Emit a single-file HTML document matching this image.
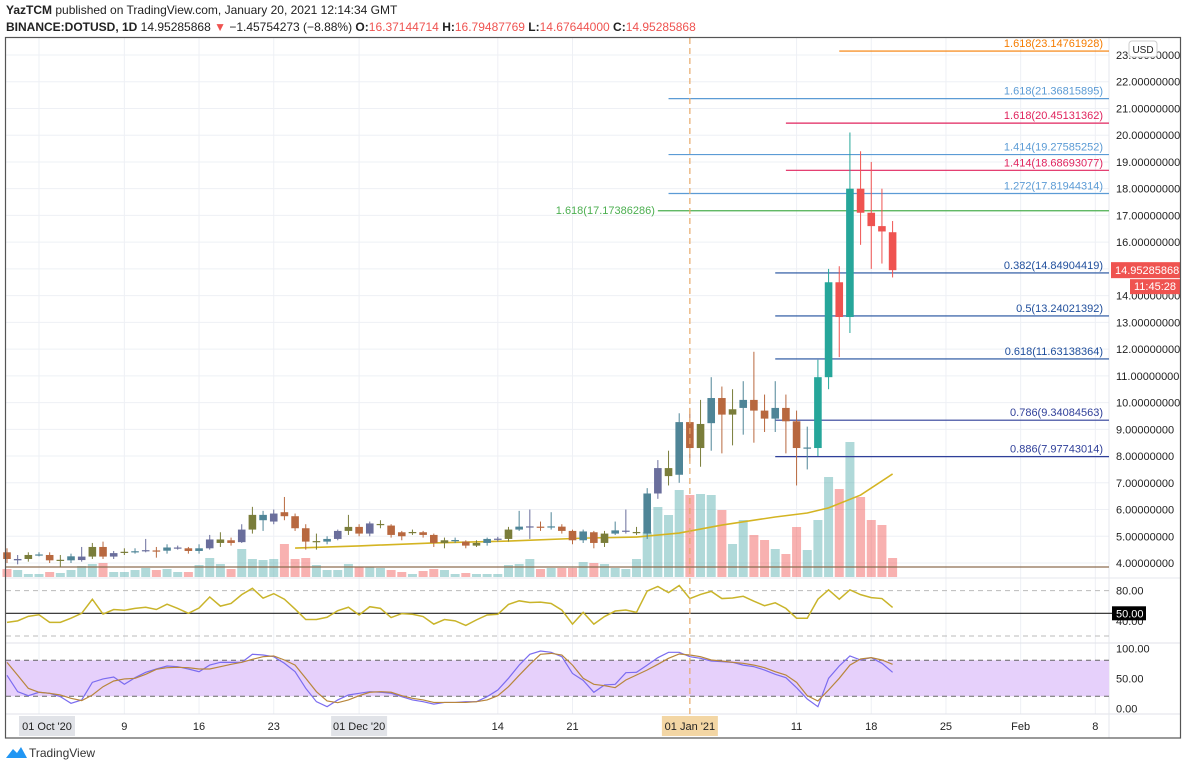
<!DOCTYPE html>
<html><head><meta charset="utf-8">
<style>
html,body{margin:0;padding:0;background:#fff;width:1185px;height:768px;overflow:hidden;font-family:"Liberation Sans",sans-serif;}
svg text{font-family:"Liberation Sans",sans-serif;}
</style></head>
<body>
<svg id="chart" width="1185" height="768" xmlns="http://www.w3.org/2000/svg">
<text x="6" y="14" font-size="12" fill="#222"><tspan font-weight="bold">YazTCM</tspan> published on TradingView.com, January 20, 2021 12:14:34 GMT</text>
<text x="6" y="31" font-size="12" fill="#222"><tspan font-weight="bold">BINANCE:DOTUSD, 1D</tspan> 14.95285868 <tspan fill="#ef5350">▼</tspan> −1.45754273 (−8.88%) <tspan font-weight="bold">O:</tspan><tspan fill="#ef5350">16.37144714</tspan> <tspan font-weight="bold">H:</tspan><tspan fill="#ef5350">16.79487769</tspan> <tspan font-weight="bold">L:</tspan><tspan fill="#ef5350">14.67644000</tspan> <tspan font-weight="bold">C:</tspan><tspan fill="#ef5350">14.95285868</tspan></text>
<g id="grid"></g>
<g id="vol"></g>
<g id="fib"></g>
<g id="candles"></g>
<g id="ind"></g>
<g id="axes"></g>
<rect x="5.5" y="37.5" width="1175" height="700.5" fill="none" stroke="#555" stroke-width="1.2"/>
<g>
<path d="M6 758 L13 749 L17 753 L21 747 L27 758 Z" fill="#2196f3"/>
<text x="29" y="757" font-size="12" fill="#333">TradingView</text>
</g>
</svg>
<script>
const days = [];
for (let d = -3; d <= 80; d++) days.push(d);
const opens  = [4.40,4.10,4.15,4.30,4.30,4.10,4.10,4.11,4.24,4.60,4.24,4.40,4.43,4.47,4.47,4.46,4.57,4.55,4.45,4.55,4.75,4.85,4.78,5.25,5.60,5.55,5.90,5.75,5.30,4.80,4.80,4.90,5.20,5.35,5.10,5.45,5.40,5.15,5.15,5.15,5.05,4.75,4.85,4.80,4.65,4.75,4.90,4.90,5.25,5.36,5.36,5.36,5.36,5.20,4.85,5.15,4.75,5.10,5.20,5.15,5.10,6.60,7.25,7.30,9.27,8.30,9.23,10.17,9.55,9.80,10.10,9.70,9.40,9.80,9.30,8.30,8.30,10.95,14.50,13.20,18.00,17.10,16.60,16.37144714];
const closes = [4.15,4.15,4.30,4.32,4.10,4.12,4.25,4.24,4.60,4.24,4.37,4.42,4.44,4.48,4.46,4.58,4.58,4.45,4.55,4.88,4.88,4.75,5.25,5.80,5.80,5.85,5.75,5.30,4.80,4.82,4.90,5.20,5.35,5.10,5.48,5.46,5.05,5.00,5.16,5.05,4.75,4.85,4.86,4.65,4.75,4.90,4.91,5.25,5.36,5.37,5.35,5.37,5.20,4.85,5.18,4.75,5.10,5.22,5.21,5.16,6.60,7.55,7.55,9.27,8.30,9.20,10.17,9.55,9.75,10.10,9.70,9.40,9.80,9.30,8.30,8.32,10.95,14.50,13.20,18.00,17.10,16.60,16.40,14.95285868];
const highs  = [4.55,4.30,4.40,4.40,4.40,4.30,4.35,4.60,4.75,4.80,4.45,4.55,4.55,4.90,4.60,4.70,4.65,4.60,4.70,5.05,5.15,4.95,5.45,6.10,5.95,6.00,6.47,5.85,5.45,5.10,5.00,5.25,5.80,5.45,5.55,5.60,5.45,5.20,5.25,5.20,5.10,4.95,4.95,4.85,4.85,4.95,4.98,5.35,5.95,6.00,5.55,5.90,5.45,5.25,5.25,5.20,5.20,5.55,6.00,5.35,6.80,7.85,8.20,9.60,9.80,10.10,10.95,10.60,10.50,10.80,11.90,10.30,10.80,10.30,9.70,9.10,11.60,15.00,15.10,20.10,19.40,19.00,18.00,16.79];
const lows   = [4.00,3.95,4.05,4.25,4.00,3.85,4.00,4.05,4.15,4.15,4.15,4.30,4.35,4.40,4.20,4.35,4.50,4.35,4.35,4.50,4.60,4.65,4.75,5.10,5.20,5.45,5.60,5.20,4.50,4.50,4.70,4.85,5.05,5.00,5.00,5.30,4.95,4.85,5.05,4.95,4.60,4.55,4.75,4.55,4.60,4.65,4.80,4.80,5.20,4.90,5.20,5.25,5.10,4.70,4.75,4.55,4.60,5.05,5.10,5.05,4.90,6.40,6.90,7.00,7.80,7.60,8.20,8.10,8.40,8.80,8.50,8.90,8.90,8.10,6.90,7.50,8.00,10.50,11.70,12.60,15.90,15.00,15.20,14.68];
const volumes = [8,7,3,3,5,4,7,11,13,14,5,5,7,9,7,8,5,5,12,19,13,8,28,18,17,18,33,18,19,12,7,7,13,10,10,9,7,5,3,6,8,7,3,4,3,3,3,12,13,18,8,9,9,9,15,14,13,9,8,18,45,70,62,87,82,83,82,67,33,57,42,37,28,23,50,27,57,100,88,135,80,57,52,19];
const maDays = [24,30,37,44,51,56,60,64,69,72,74,77,80];
const maVals = [4.56,4.64,4.75,4.82,4.93,4.97,5.12,5.42,5.72,5.87,6.06,6.54,7.33];
const rsiVals = [38,40,46,48,38,38,43.5,50,68.6,49,55,54,56.5,58,55,62,56.5,50,57,71.6,59.5,63,74.7,83,70,76,68.6,55.6,41.8,41.8,44.8,53.5,58,47.8,58.7,56.5,44.4,49.6,48.7,45.7,35.7,41.8,40,34,41.3,47.8,48.7,61.7,66.5,64.3,64.7,63,54.3,35.7,51.3,35.7,45.7,53,54.3,51.3,79.4,85.5,77.3,86.8,69.5,75,79,69.5,70.3,72.5,66,60,63.9,56.5,43.5,43.5,68.6,81,68.6,81,74.7,70.8,69.5,57.8];
const stochK = [55,27.7,21,26.7,25,19.4,8.3,13.9,43.3,48.9,52.2,40,51,60,65.5,70.5,69.4,65.5,61,72,76.6,76.6,76.6,90,88.8,86,75,61,33.3,11,2.7,13.9,22.2,25,27.7,26.7,25,19.4,13.9,11,7,9.8,9.8,11,11,19.4,30.5,50,72,90,95.5,93.3,86,58,46.6,26.7,38.9,40,59.4,60,72,84.4,93.3,93.3,86,83.3,78.8,77.7,76.6,72,69.4,63.8,56.6,51,34.4,15.5,2.7,50,70.5,87.2,80.5,84.4,75,60];
const stochD = [76.6,55,33.3,26.7,25,22.2,16.6,12.8,22.2,36,45.5,48.9,50,56.6,65,67.7,68.3,67.7,65.5,65.5,69.4,73.3,76.6,81.6,86,87.2,80.5,72,50,27.7,12.2,9.4,13.9,21,26.7,27.7,26.7,21,16.6,13.9,9.8,9.8,9.8,9.8,11,13.9,21,36,55,73.3,90,91.6,88.8,72,50,40,37.7,34.4,47.2,55.5,63.8,73.3,83.3,90.5,88.8,86,80.5,78.8,76.6,75,72,67.7,61,55.5,43.3,21,12.2,30.5,50,72,82.2,84.4,80.5,73.3];
const priceTicks = [4,5,6,7,8,9,10,11,12,13,14,15,16,17,18,19,20,21,22,23];
const dateTickDays = [0,8,15,22,30,43,50,61,71,78,85,92,99];
const dateTickLabels = ["01 Oct '20","9","16","23","01 Dec '20","14","21","01 Jan '21","11","18","25","Feb","8"];
const fibRatios = ["1.618","1.618","1.618","1.414","1.414","1.272","1.618","0.382","0.5","0.618","0.786","0.886"];
const fibPrices = [23.14761928,21.36815895,20.45131362,19.27585252,18.68693077,17.81944314,17.17386286,14.84904419,13.24021392,11.63138364,9.34084563,7.97743014];
const fibStartDays = [75,59,70,59,70,59,58,69,69,69,69,69];
const fibColors = ["#f57c00","#5b9bd5","#e0245e","#5b9bd5","#e0245e","#5b9bd5","#4caf50","#1f4e9c","#1f4e9c","#1f4e9c","#2f3f99","#2f3f99"];

const NS = "http://www.w3.org/2000/svg";
const PR = 1109;
function x(d){ return 39 + d * 10.67; }
function y(p){ return 563 - (p - 4) * 26.737; }
function vy(v){ return 577 - v * 1.0; }
function ry(v){ return 613.3 - (v - 50) * 0.756; }
function sy(v){ return 708.3 - v * 0.6; }
function mk(tag, attrs, parent){ const e = document.createElementNS(NS, tag); for (const k in attrs) e.setAttribute(k, attrs[k]); parent.appendChild(e); return e; }
const grid = document.getElementById('grid'), volG = document.getElementById('vol'), fibG = document.getElementById('fib'), cG = document.getElementById('candles'), indG = document.getElementById('ind'), axG = document.getElementById('axes');

priceTicks.forEach(p => {
  const l = mk('line', {x1:6, x2:PR, y1:y(p), y2:y(p), stroke:'#eef0f5', 'stroke-width':1}, grid);
  
  
  const t = mk('text', {x:1116, y:y(p)+4, 'font-size':11, fill:'#222'}, axG);
  t.textContent = p.toFixed(8);
  
  
});
dateTickDays.forEach((d, i) => {
  if (i !== 7) {
    const l = mk('line', {x1:x(d), x2:x(d), y1:38, y2:714, stroke:'#eef0f5', 'stroke-width':1}, grid);
    
    
  }
  const lab = dateTickLabels[i];
  const w = lab.length > 3 ? 56 : 20;
  if (lab.length > 3) {
    const r = mk('rect', {x:x(d)-w/2+ (i===0?8:0), y:716, width:w, height:20, fill: i===7 ? '#f3d6a4' : '#e1e3e8'}, axG);
    
    
  }
  const t = mk('text', {x:x(d) + (i===0?8:0), y:730, 'font-size':11, fill:'#222', 'text-anchor':'middle'}, axG);
  t.textContent = lab;
  
  
});
[[578,'#e5e7ec'],[643,'#e0e2e8'],[714,'#e0e2e8']].forEach(a => {
  const l = mk('line', {x1:6, x2:1180, y1:a[0], y2:a[0], stroke:a[1], 'stroke-width':1}, grid);
  
  
});
const ax = mk('line', {x1:PR, x2:PR, y1:38, y2:738, stroke:'#e5e7ec'}, grid);



days.forEach((d, i) => {
  const up = closes[i] >= opens[i];
  const r = mk('rect', {x:x(d)-4.5, y:vy(volumes[i]), width:9, height:577-vy(volumes[i]), fill: up ? 'rgba(80,170,170,0.45)' : 'rgba(239,83,80,0.45)'}, volG);
  
  
});
const vline = mk('line', {x1:6, x2:PR, y1:567, y2:567, stroke:'#8d6e50', 'stroke-width':1.2}, volG);



fibPrices.forEach((p, i) => {
  const l = mk('line', {x1:x(fibStartDays[i]), x2:PR, y1:y(p), y2:y(p), stroke:fibColors[i], 'stroke-width':1.2}, fibG);
  
  
  const isGreen = i === 6;
  const t = mk('text', {x: isGreen ? x(fibStartDays[i]) - 3 : 1103, y:y(p)-4 + (isGreen?7:0), 'font-size':11, fill:fibColors[i], 'text-anchor':'end'}, fibG);
  t.textContent = fibRatios[i] + '(' + p.toFixed(8) + ')';
  
  
});

const maPts = maDays.map((d, i) => x(d) + ',' + y(maVals[i])).join(' ');
const ma = mk('polyline', {points:maPts, fill:'none', stroke:'#d4b422', 'stroke-width':1.6}, cG);



days.forEach((d, i) => {
  const up = closes[i] >= opens[i];
  let col;
  if (d >= 73) col = up ? '#26a69a' : '#ef5350';
  else col = up ? ['#4f8597','#6a6e9c','#7a7d3a'][i % 3] : '#b8683f';
  const g = mk('g', {}, cG);
  
  
  mk('line', {x1:x(d), x2:x(d), y1:y(highs[i]), y2:y(lows[i]), stroke:col, 'stroke-width':1}, g);
  const top = y(Math.max(opens[i], closes[i])), bot = y(Math.min(opens[i], closes[i]));
  mk('rect', {x:x(d)-3.8, y:top, width:7.6, height:Math.max(1.2, bot-top), fill:col}, g);
});

[80,20].forEach(v => {
  const l = mk('line', {x1:6, x2:PR, y1:ry(v), y2:ry(v), stroke:'#bbb', 'stroke-dasharray':'5,4'}, indG);
  
  
});
const mid = mk('line', {x1:6, x2:1113, y1:ry(50), y2:ry(50), stroke:'#222', 'stroke-width':1.2}, indG);


const rsi = mk('polyline', {points: days.map((d,i)=>x(d)+','+ry(rsiVals[i])).join(' '), fill:'none', stroke:'#c9b42a', 'stroke-width':1.5}, indG);


const t80 = mk('text', {x:1116, y:ry(80)+4, 'font-size':11, fill:'#222'}, axG); t80.textContent='80.00';


const t40 = mk('text', {x:1116, y:ry(40)+4, 'font-size':11, fill:'#222'}, axG); t40.textContent='40.00';


const b50 = mk('rect', {x:1112, y:ry(50)-7, width:34, height:14, fill:'#000'}, axG);


const t50 = mk('text', {x:1116, y:ry(50)+4, 'font-size':11, fill:'#fff'}, axG); t50.textContent='50.00';



const band = mk('rect', {x:6, y:sy(80), width:PR-6, height:sy(20)-sy(80), fill:'#e6d0fb'}, indG);


[80,20].forEach(v => {
  const l = mk('line', {x1:6, x2:PR, y1:sy(v), y2:sy(v), stroke:'#666', 'stroke-dasharray':'5,4'}, indG);
  
  
});
const kl = mk('polyline', {points: days.map((d,i)=>x(d)+','+sy(stochK[i])).join(' '), fill:'none', stroke:'#7b6cf0', 'stroke-width':1.2}, indG);


const dl = mk('polyline', {points: days.map((d,i)=>x(d)+','+sy(stochD[i])).join(' '), fill:'none', stroke:'#b8863c', 'stroke-width':1.2}, indG);


[100,50,0].forEach(v => {
  const t = mk('text', {x:1116, y:sy(v)+4, 'font-size':11, fill:'#222'}, axG); t.textContent = v.toFixed(2);
  
  
});

const jl = mk('line', {x1:x(61), x2:x(61), y1:38, y2:714, stroke:'#e8a868', 'stroke-width':1.2, 'stroke-dasharray':'6,4'}, indG);



const lp = closes[closes.length-1];
const lr = mk('rect', {x:1111, y:y(lp)-8, width:69, height:16, fill:'#ef5350'}, axG);


const lt = mk('text', {x:1115, y:y(lp)+4, 'font-size':11, fill:'#fff'}, axG); lt.textContent = lp.toFixed(8);


const cr = mk('rect', {x:1130, y:y(lp)+9, width:50, height:15, fill:'#ef5350'}, axG);


const ct = mk('text', {x:1134, y:y(lp)+20, 'font-size':11, fill:'#fff'}, axG); ct.textContent = '11:45:28';


const ur = mk('rect', {x:1129, y:41, width:28, height:16, rx:3, fill:'#fff', stroke:'#ccc'}, axG);


const ut = mk('text', {x:1143, y:53, 'font-size':10, fill:'#222', 'text-anchor':'middle'}, axG); ut.textContent = 'USD';


</script>
</body></html>
